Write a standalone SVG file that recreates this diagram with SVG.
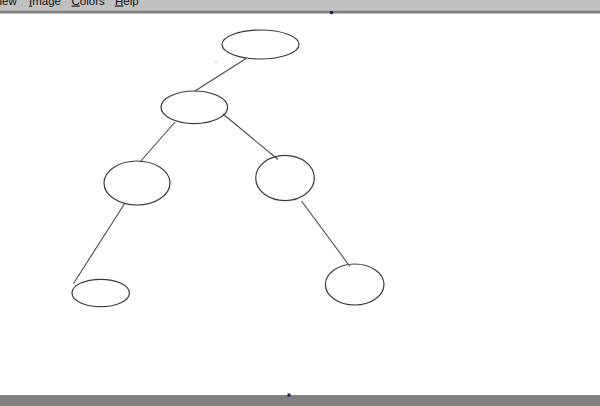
<svg xmlns="http://www.w3.org/2000/svg" width="600" height="406" viewBox="0 0 600 406">
<style>
.node{fill:none;stroke:#3a3a3a;stroke-width:1.2}
.edge{stroke:#4a4a4a;stroke-width:1.1;fill:none}
.menu{font-family:"Liberation Sans",Arial,sans-serif;font-size:11.5px;fill:#111}
.u{text-decoration:underline}
</style>
<rect x="0" y="0" width="600" height="406" fill="#ffffff"/>
<g id="chrome">
<rect x="0" y="0" width="600" height="10.5" fill="#c0c0c0"/>
<rect x="0" y="10.5" width="600" height="3" fill="#808080"/>
<rect x="330" y="11" width="3" height="3" fill="#1a1a6a"/>
<rect x="0" y="395" width="600" height="11" fill="#808080"/>
<rect x="287.5" y="393.5" width="3" height="3" fill="#1a1a6a"/>
<text class="menu" x="-0.5" y="4.5">iew</text>
<text class="menu" x="29" y="4.5"><tspan class="u">I</tspan>mage</text>
<text class="menu" x="71.5" y="4.5"><tspan class="u">C</tspan>olors</text>
<text class="menu" x="115" y="4.5"><tspan class="u">H</tspan>elp</text>
</g>
<g id="connectors">
<line class="edge" x1="246" y1="58.5" x2="195" y2="91"/>
<line class="edge" x1="175" y1="122" x2="140" y2="162"/>
<line class="edge" x1="223" y1="114" x2="278" y2="159.5"/>
<line class="edge" x1="125" y1="203" x2="73.5" y2="283.5"/>
<line class="edge" x1="301.5" y1="201" x2="350" y2="266.5"/>
</g>
<g id="n1"><ellipse class="node" cx="260.5" cy="44.5" rx="38.5" ry="14.5"/></g>
<g id="n2"><ellipse class="node" cx="194.3" cy="107.3" rx="33.3" ry="16.3"/></g>
<g id="n3"><ellipse class="node" cx="137" cy="183" rx="33" ry="22"/></g>
<g id="n4"><ellipse class="node" cx="285" cy="178" rx="29.3" ry="22.7"/></g>
<g id="n5"><ellipse class="node" cx="100.7" cy="293" rx="28.7" ry="13.7"/></g>
<g id="n6"><ellipse class="node" cx="354.7" cy="284.5" rx="29.3" ry="20.5"/></g>
<rect x="215.5" y="61.5" width="1" height="1" fill="#555"/>
</svg>
